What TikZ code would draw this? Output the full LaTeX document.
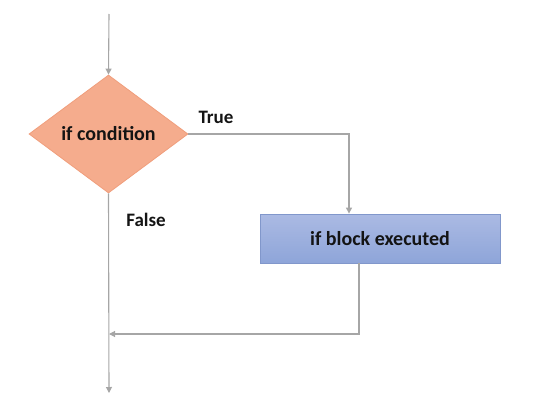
\documentclass[tikz,border=0pt]{standalone}
\usepackage{fontspec}
\setmainfont{Carlito}
\usetikzlibrary{shapes.geometric,arrows.meta}
\definecolor{linegray}{HTML}{A6A6A6}
\definecolor{dfill}{HTML}{F5AC8D}
\definecolor{ddraw}{HTML}{F09E7C}
\definecolor{btop}{HTML}{ABBAE3}
\definecolor{bbot}{HTML}{8EA5D9}
\definecolor{bdraw}{HTML}{8197CB}
\definecolor{txt}{HTML}{141414}
\tikzset{
  conn/.style={draw=linegray, line width=1.1pt},
  arr/.style={conn, -{Triangle[length=6pt,width=6pt]}},
  decision/.style={diamond, aspect=1.347, fill=dfill, draw=ddraw, line width=0.8pt,
     minimum width=159pt, minimum height=118pt, inner sep=0pt, text=txt, font=\fontsize{20}{22}\selectfont\bfseries},
  blockbox/.style={rectangle, top color=btop, bottom color=bbot, draw=bdraw, line width=0.8pt,
     minimum width=240pt, minimum height=49pt, inner sep=0pt, text=txt, font=\fontsize{20}{22}\selectfont\bfseries},
  lbl/.style={font=\fontsize{19}{21}\selectfont\bfseries, text=txt, inner sep=0pt}
}
\begin{document}
\begin{tikzpicture}[x=1pt,y=-1pt]
\useasboundingbox (0,0) rectangle (538,420);
\coordinate (start) at (109,14);
\node[decision] (cond) at (108.5,134) {if condition};
\node[blockbox] (blk) at (380,238.5) {if block executed};
\coordinate (tc) at (349,134);
\coordinate (bc) at (359,334);
\coordinate (mc) at (109,334);
\coordinate (endp) at (109,393);
\draw[arr] (start) -- (cond.north);
\draw[arr] (cond.east) -- (tc) -- (tc |- blk.north);
\draw[arr] (bc |- blk.south) -- (bc) -- (mc);
\draw[arr] (cond.south) -- (endp);
\node[lbl] (tl) at (216,117) {True};
\node[lbl] (fl) at (146,220) {False};
\end{tikzpicture}
\end{document}
